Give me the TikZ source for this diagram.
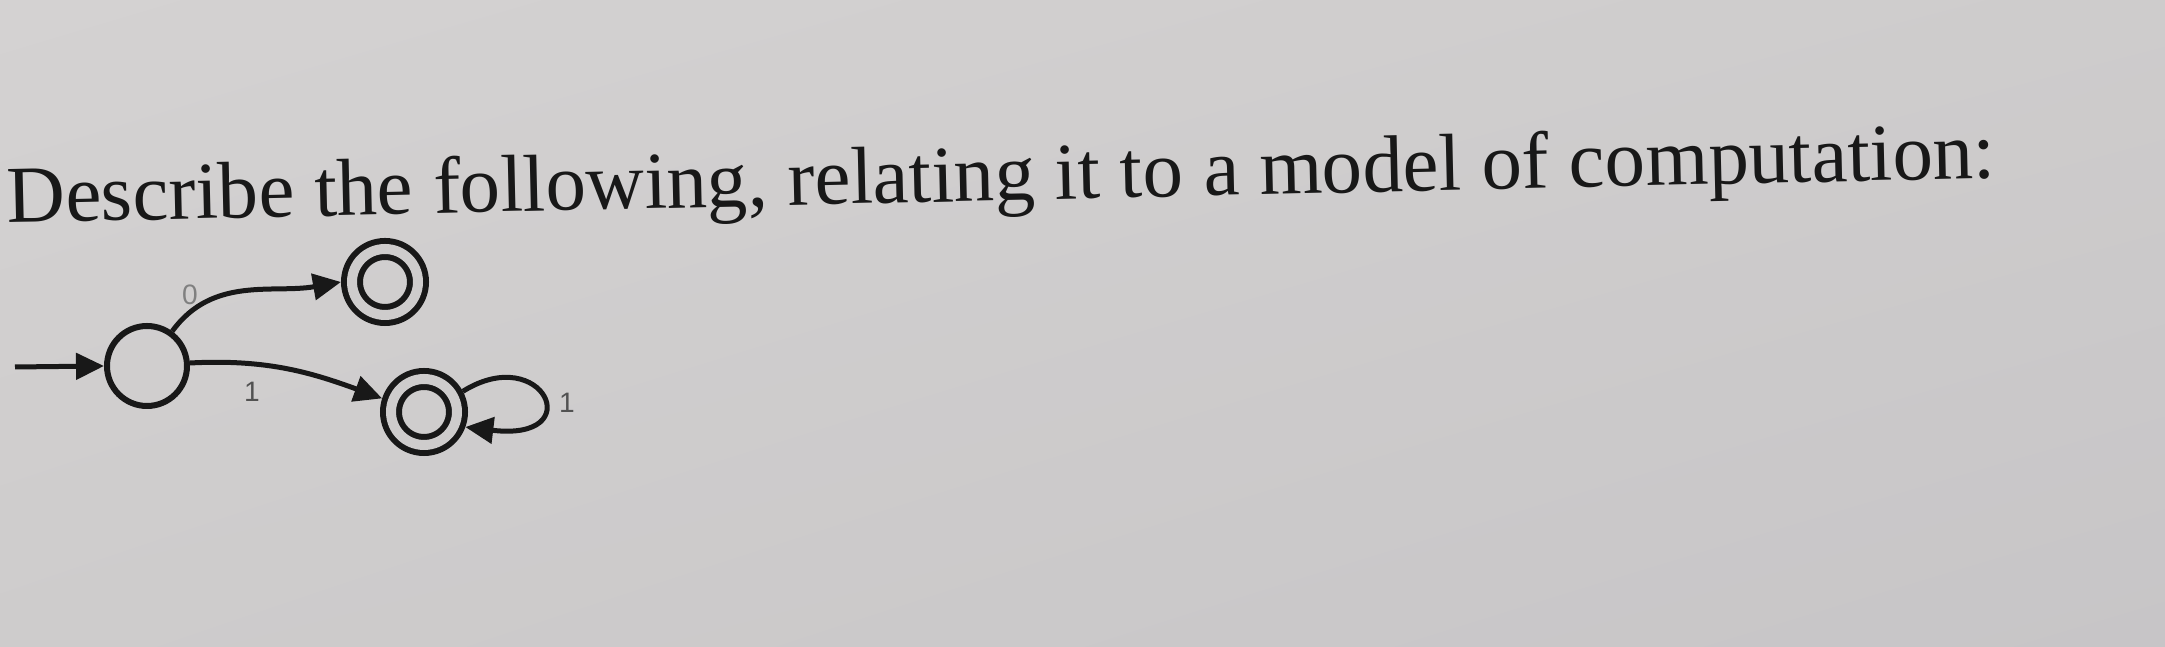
\documentclass[tikz,border=0pt]{standalone}
\usepackage{fontspec}
\setmainfont{Liberation Serif}
\newfontfamily\labelfont{Liberation Sans}
\usetikzlibrary{arrows.meta,shadings}
\definecolor{paper}{RGB}{206,204,204}
\definecolor{paperlight}{RGB}{212,210,210}
\definecolor{paperdark}{RGB}{199,197,199}
\definecolor{ink}{RGB}{24,24,24}

\tikzset{
  state/.style={circle,draw=ink,line width=0.6mm,minimum size=8mm,inner sep=0pt},
  accept/.style={circle,draw=ink,double=paper,line width=0.6mm,double distance=1mm,
    minimum size=6.6mm,inner sep=0pt,outer sep=1.1mm},
  trans/.style={draw=ink,line width=0.5mm,-{Triangle[length=2.8mm,width=2.6mm]}},
  lab/.style={font=\labelfont\fontsize{8}{8}\selectfont,text=ink!75,inner sep=0pt}
}

\begin{document}
\begin{tikzpicture}[x=0.1mm,y=-0.1mm]
% paper, sizes in pixels of the photo
\shade[upper left=paperlight,upper right=paper,lower left=paper,lower right=paperdark]
  (0,0) rectangle (2165,647);
\useasboundingbox (0,0) rectangle (2165,647);

\node (title) [anchor=base west,rotate=1.3,inner sep=0pt,text=ink,
  font=\fontsize{23}{23}\selectfont] at (7,223)
  {Describe the following, relating it to a model of computation:};

% states
\node (q0) [state] at (147,366) {};
\node (q1) [accept] at (385,282) {};
\node (q2) [accept] at (424,412) {};
\coordinate (init) at (15,367);

% transitions
\draw[trans] (init) -- (q0.west);
\draw[trans] (q0.54) to[out=54,in=190] (q1.west);
\draw[trans] (q0.4) to[out=3,in=160] (q2.162);
\draw[trans] (q2.28) .. controls +(80,-50) and +(125,15) .. (q2.-20);

\node (l0) [lab,text=ink!55] at (190,295) {0};
\node (l1) [lab] at (252,392) {1};
\node (l2) [lab] at (567,403) {1};
\end{tikzpicture}
\end{document}
